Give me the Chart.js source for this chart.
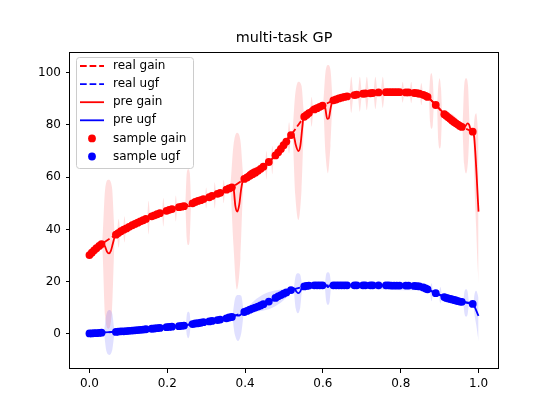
<!DOCTYPE html>
<html>
<head>
<meta charset="utf-8">
<script src="https://cdn.jsdelivr.net/npm/chart.js@4.4.0/dist/chart.umd.min.js"></script>
<style>
  html, body { margin: 0; padding: 0; background: #fff; }
  canvas { display: block; }
</style>
</head>
<body>
<canvas id="chart" width="554" height="415"></canvas>
<script>
// tick labels
const xTicks = [0, 0.2, 0.4, 0.6, 0.8, 1.0];
const xTickLabels = ["0.0", "0.2", "0.4", "0.6", "0.8", "1.0"];
const yTicks = [0, 20, 40, 60, 80, 100];

// sampled points (same x for both tasks)
const sampleX = [
  0.000, 0.006, 0.012, 0.018, 0.025, 0.031, 0.068, 0.074, 0.081, 0.088,
  0.095, 0.102, 0.110, 0.117, 0.124, 0.131, 0.138, 0.145, 0.160, 0.167,
  0.174, 0.181, 0.198, 0.205, 0.212, 0.230, 0.237, 0.243, 0.265, 0.272,
  0.279, 0.286, 0.293, 0.308, 0.315, 0.329, 0.336, 0.352, 0.359, 0.366,
  0.398, 0.405, 0.412, 0.419, 0.426, 0.433, 0.440, 0.447, 0.461, 0.478,
  0.485, 0.492, 0.499, 0.506, 0.518, 0.552, 0.558, 0.564, 0.578, 0.585,
  0.592, 0.599, 0.627, 0.634, 0.641, 0.648, 0.655, 0.662, 0.681, 0.687,
  0.703, 0.709, 0.722, 0.728, 0.743, 0.762, 0.769, 0.776, 0.783, 0.790,
  0.797, 0.813, 0.820, 0.835, 0.842, 0.848, 0.858, 0.864, 0.869, 0.890,
  0.912, 0.917, 0.922, 0.927, 0.932, 0.937, 0.942, 0.947, 0.952, 0.957,
  0.985
];
const sampleGain = [
  30.2, 31.1, 32.0, 32.8, 33.7, 34.4, 38.0, 38.6, 39.3, 39.9,
  40.4, 41.0, 41.6, 42.1, 42.6, 43.1, 43.5, 44.0, 45.0, 45.4,
  45.8, 46.2, 47.1, 47.5, 47.8, 48.5, 48.7, 48.9, 50.0, 50.5,
  50.9, 51.2, 51.6, 52.3, 52.8, 53.6, 54.0, 55.2, 55.7, 56.1,
  59.3, 59.9, 60.5, 61.1, 61.7, 62.4, 63.2, 64.0, 65.8, 68.3,
  69.5, 70.8, 72.2, 73.6, 76.1, 83.1, 83.8, 84.5, 85.9, 86.4,
  86.9, 87.4, 89.4, 89.7, 90.1, 90.4, 90.7, 90.9, 91.4, 91.6,
  91.9, 92.0, 92.1, 92.2, 92.4, 92.5, 92.5, 92.5, 92.5, 92.5,
  92.5, 92.4, 92.4, 92.2, 92.1, 91.9, 91.5, 91.1, 90.7, 87.6,
  84.1, 83.5, 82.9, 82.3, 81.7, 81.1, 80.6, 80.1, 79.6, 79.2,
  77.4
];
const sampleUgf = [
  0.2, 0.2, 0.3, 0.3, 0.4, 0.5, 0.8, 0.9, 1.0, 1.0,
  1.1, 1.2, 1.3, 1.4, 1.5, 1.6, 1.7, 1.8, 2.0, 2.1,
  2.2, 2.3, 2.6, 2.7, 2.8, 3.0, 3.1, 3.2, 3.8, 4.0,
  4.1, 4.3, 4.5, 4.8, 5.0, 5.3, 5.5, 6.0, 6.3, 6.5,
  8.4, 8.8, 9.3, 9.7, 10.1, 10.5, 10.9, 11.4, 12.4, 13.8,
  14.4, 14.9, 15.4, 15.9, 16.8, 18.2, 18.4, 18.5, 18.6, 18.6,
  18.6, 18.6, 18.6, 18.6, 18.6, 18.6, 18.6, 18.6, 18.6, 18.6,
  18.6, 18.6, 18.6, 18.6, 18.6, 18.6, 18.6, 18.5, 18.5, 18.5,
  18.5, 18.5, 18.5, 18.4, 18.3, 18.2, 17.8, 17.4, 17.1, 15.6,
  14.1, 13.8, 13.6, 13.4, 13.2, 13.0, 12.8, 12.6, 12.4, 12.3,
  11.5
];

// GP prediction (gain)
const preGainX = [
  0, 0.01, 0.02, 0.033, 0.04, 0.045, 0.05, 0.055, 0.06, 0.066,
  0.1, 0.15, 0.2, 0.242, 0.25, 0.256, 0.264, 0.3, 0.35, 0.368,
  0.371, 0.375, 0.38, 0.385, 0.39, 0.395, 0.45, 0.5, 0.52, 0.525,
  0.53, 0.537, 0.542, 0.547, 0.55, 0.603, 0.606, 0.611, 0.615, 0.62,
  0.625, 0.7, 0.8, 0.848, 0.87, 0.89, 0.96, 0.966, 0.972, 0.976,
  0.98, 0.985, 0.989, 1.0
];
const preGain = [
  30.2, 31.8, 33.2, 34.6, 33.5, 31.5, 30.8, 31.8, 34.5, 37.7,
  40.8, 44.4, 47.2, 48.9, 49.1, 48.8, 50.0, 51.9, 55.0, 56.2,
  55.0, 49.0, 46.8, 49.5, 55.5, 59.0, 64.4, 72.4, 76.5, 76.0,
  72.5, 70.0, 72.0, 79.0, 82.8, 87.6, 86.5, 82.3, 82.5, 86.5,
  89.2, 91.9, 92.5, 92.0, 90.7, 87.6, 78.9, 79.5, 80.6, 80.0,
  78.0, 77.4, 75.0, 46.8
];

// GP prediction (ugf)
const preUgfX = [
  0, 0.033, 0.05, 0.066, 0.1, 0.15, 0.2, 0.25, 0.3, 0.35,
  0.368, 0.376, 0.382, 0.388, 0.395, 0.45, 0.5, 0.52, 0.526, 0.532,
  0.537, 0.542, 0.548, 0.6, 0.608, 0.613, 0.618, 0.7, 0.84, 0.87,
  0.89, 0.96, 0.985, 1.0
];
const preUgf = [
  0.2, 0.5, 0.7, 0.8, 1.2, 1.9, 2.6, 3.5, 4.6, 6.0,
  6.6, 7.2, 7.0, 7.3, 8.2, 11.6, 15.3, 16.9, 17.4, 16.2,
  15.6, 16.3, 18.2, 18.6, 18.6, 17.9, 18.6, 18.6, 18.4, 17.0,
  15.6, 12.3, 11.5, 6.9
];

// confidence band (gain)
const gainBandX = [
  0, 0.032, 0.040, 0.049, 0.058, 0.066, 0.07, 0.075, 0.08, 0.086,
  0.09, 0.094, 0.148, 0.152, 0.156, 0.186, 0.19, 0.194, 0.218, 0.222,
  0.226, 0.246, 0.25, 0.254, 0.258, 0.262, 0.296, 0.3, 0.304, 0.318,
  0.322, 0.326, 0.341, 0.345, 0.349, 0.361, 0.37, 0.379, 0.388, 0.397,
  0.451, 0.455, 0.459, 0.466, 0.47, 0.474, 0.508, 0.513, 0.518, 0.521,
  0.529, 0.537, 0.545, 0.553, 0.566, 0.571, 0.576, 0.6, 0.6065, 0.613,
  0.6195, 0.626, 0.667, 0.673, 0.679, 0.689, 0.695, 0.701, 0.707, 0.713,
  0.719, 0.729, 0.735, 0.741, 0.748, 0.754, 0.76, 0.8, 0.805, 0.81,
  0.822, 0.827, 0.832, 0.848, 0.853, 0.858, 0.872, 0.8755, 0.879, 0.8825,
  0.886, 0.893, 0.8965, 0.9, 0.9035, 0.907, 0.958, 0.963, 0.968, 0.973,
  0.978, 0.986, 0.99, 0.994, 0.997, 1.0
];
const gainBandHi = [
  30.2, 34.4, 55.0, 59.0, 56.0, 37.7, 38.2, 44.0, 39.2, 39.7,
  45.0, 40.4, 44.2, 51.0, 44.8, 46.5, 52.0, 47.0, 48.0, 53.0,
  48.3, 49.0, 61.5, 63.0, 61.5, 49.9, 51.7, 56.0, 52.1, 52.9,
  58.0, 53.4, 54.3, 59.0, 55.0, 55.8, 72.0, 77.0, 74.0, 59.2,
  64.5, 70.0, 65.5, 66.5, 72.0, 67.7, 74.0, 81.0, 76.0, 76.7,
  92.0, 96.5, 95.0, 83.2, 84.8, 90.7, 85.7, 87.4, 100.0, 102.9,
  101.0, 89.3, 91.1, 98.4, 91.4, 91.6, 98.4, 91.9, 91.9, 98.4,
  92.1, 92.2, 98.4, 92.4, 92.5, 98.4, 92.5, 92.5, 96.5, 92.5,
  92.4, 96.5, 92.3, 92.0, 96.0, 91.6, 90.4, 98.0, 99.7, 97.0,
  88.2, 87.2, 95.0, 97.8, 94.0, 84.8, 79.0, 95.0, 97.8, 95.0,
  79.5, 77.3, 83.0, 84.4, 81.0, 74.0
];
const gainBandLo = [
  30.2, 34.4, 7.0, 2.0, 9.0, 37.7, 38.2, 33.0, 39.2, 39.7,
  35.0, 40.4, 44.2, 38.0, 44.8, 46.5, 41.0, 47.0, 48.0, 43.0,
  48.3, 49.0, 36.5, 34.0, 36.5, 49.9, 51.7, 48.0, 52.1, 52.9,
  48.0, 53.4, 54.3, 50.0, 55.0, 55.8, 34.0, 17.0, 29.0, 59.2,
  64.5, 59.0, 65.5, 66.5, 61.0, 67.7, 74.0, 69.0, 76.0, 76.7,
  53.0, 43.6, 55.0, 83.2, 84.8, 79.3, 85.7, 87.4, 69.0, 61.4,
  72.0, 89.3, 91.1, 84.5, 91.4, 91.6, 85.0, 91.9, 91.9, 85.6,
  92.1, 92.2, 86.0, 92.4, 92.5, 86.5, 92.5, 92.5, 88.5, 92.5,
  92.4, 88.3, 92.3, 92.0, 87.5, 91.6, 90.4, 81.0, 78.5, 80.0,
  88.2, 87.2, 74.0, 71.0, 73.0, 84.8, 79.0, 65.0, 61.4, 66.0,
  79.5, 77.3, 55.0, 40.0, 28.0, 19.0
];

// confidence band (ugf)
const ugfBandX = [
  0, 0.036, 0.0435, 0.051, 0.0585, 0.066, 0.247, 0.2505, 0.254, 0.2575,
  0.261, 0.366, 0.374, 0.382, 0.39, 0.398, 0.524, 0.53, 0.536, 0.542,
  0.548, 0.604, 0.6085, 0.613, 0.6175, 0.622, 0.874, 0.879, 0.884, 0.897,
  0.902, 0.907, 0.96, 0.964, 0.968, 0.972, 0.976, 0.986, 0.99, 0.994,
  1.0
];
const ugfBandHi = [
  0.2, 0.5, 7.5, 9.2, 7.8, 0.8, 3.4, 7.6, 8.5, 7.9,
  3.7, 6.5, 13.5, 14.9, 14.6, 8.4, 17.1, 22.3, 23.2, 22.6,
  18.2, 18.6, 22.9, 23.6, 22.9, 18.6, 16.7, 19.4, 16.1, 15.1,
  18.0, 14.4, 12.3, 16.3, 17.1, 16.2, 11.8, 11.5, 15.5, 16.5,
  14.0
];
const ugfBandLo = [
  0.2, 0.5, -6.5, -8.0, -6.2, 0.8, 3.4, -0.6, -1.6, -0.3,
  3.7, 6.5, -0.5, -2.7, 0.2, 8.4, 17.1, 9.8, 7.9, 10.3,
  18.2, 18.6, 12.5, 11.1, 12.5, 18.6, 16.7, 12.5, 16.1, 15.1,
  11.7, 14.4, 12.3, 7.6, 6.6, 7.5, 11.8, 11.5, 7.0, 3.5,
  -2.9
];

const pts = (xs, ys) => xs.map((x, i) => ({ x: x, y: ys[i] }));

const RED = "#ff0000";
const BLUE = "#0000ff";

// frame around the plot, like matplotlib spines
const frame = {
  id: "frame",
  afterDatasetsDraw(chart) {
    const { ctx, chartArea: a } = chart;
    ctx.save();
    ctx.strokeStyle = "#000";
    ctx.lineWidth = 1;
    ctx.strokeRect(Math.round(a.left) - 0.5, Math.round(a.top) + 0.5,
      Math.round(a.right - a.left) + 1, Math.round(a.bottom - a.top) - 1);
    ctx.restore();
  },
};

// legend box in the upper left corner
const boxLegend = {
  id: "boxLegend",
  afterDraw(chart) {
    const ctx = chart.ctx;
    const items = chart.data.datasets.filter((d) => d.label);
    const x0 = 76, y0 = 57, w = 117, h = 111, r = 3;
    ctx.save();
    ctx.beginPath();
    ctx.roundRect(x0 + 0.5, y0 + 0.5, w, h, r);
    ctx.fillStyle = "rgba(255,255,255,0.8)";
    ctx.fill();
    ctx.strokeStyle = "#cccccc";
    ctx.lineWidth = 1;
    ctx.stroke();
    ctx.font = "12px 'DejaVu Sans'";
    ctx.textBaseline = "middle";
    items.forEach((d, i) => {
      const y = 66 + i * 18.1;
      if (d.showLine === false) {
        ctx.beginPath();
        ctx.arc(92, y, d.pointRadius, 0, Math.PI * 2);
        ctx.fillStyle = d.backgroundColor;
        ctx.fill();
      } else {
        ctx.beginPath();
        ctx.setLineDash(d.borderDash || []);
        ctx.strokeStyle = d.borderColor;
        ctx.lineWidth = d.borderWidth;
        ctx.moveTo(80, y);
        ctx.lineTo(104, y);
        ctx.stroke();
        ctx.setLineDash([]);
      }
      ctx.fillStyle = "#000";
      ctx.fillText(d.label, 113, y);
    });
    ctx.restore();
  },
};

Chart.defaults.font.family = "'DejaVu Sans', sans-serif";
Chart.defaults.font.size = 12;
Chart.defaults.color = "#000";

const ctx = document.getElementById("chart").getContext("2d");
const chart = new Chart(ctx, {
  type: "line",
  data: {
    datasets: [
      {
        label: "real gain",
        data: pts(sampleX, sampleGain),
        borderColor: RED,
        borderWidth: 1.8,
        borderDash: [6.7, 2.9],
        pointRadius: 0,
        order: 3,
      },
      {
        label: "real ugf",
        data: pts(sampleX, sampleUgf),
        borderColor: BLUE,
        borderWidth: 1.8,
        borderDash: [6.7, 2.9],
        pointRadius: 0,
        order: 3,
      },
      {
        label: "pre gain",
        data: pts(preGainX, preGain),
        borderColor: RED,
        borderWidth: 1.8,
        pointRadius: 0,
        cubicInterpolationMode: "monotone",
        order: 2,
      },
      {
        label: "pre ugf",
        data: pts(preUgfX, preUgf),
        borderColor: BLUE,
        borderWidth: 1.8,
        pointRadius: 0,
        cubicInterpolationMode: "monotone",
        order: 2,
      },
      {
        label: "sample gain",
        data: pts(sampleX, sampleGain),
        showLine: false,
        pointRadius: 3.9,
        pointBorderWidth: 0,
        backgroundColor: RED,
        borderColor: RED,
        order: 1,
      },
      {
        label: "sample ugf",
        data: pts(sampleX, sampleUgf),
        showLine: false,
        pointRadius: 3.9,
        pointBorderWidth: 0,
        backgroundColor: BLUE,
        borderColor: BLUE,
        order: 1,
      },
      // bands (no legend entry)
      {
        data: pts(gainBandX, gainBandHi),
        borderColor: "transparent",
        backgroundColor: "rgba(255, 0, 0, 0.13)",
        pointRadius: 0,
        fill: "+1",
        cubicInterpolationMode: "monotone",
        order: 5,
      },
      {
        data: pts(gainBandX, gainBandLo),
        borderColor: "transparent",
        pointRadius: 0,
        fill: false,
        cubicInterpolationMode: "monotone",
        order: 5,
      },
      {
        data: pts(ugfBandX, ugfBandHi),
        borderColor: "transparent",
        backgroundColor: "rgba(0, 0, 255, 0.12)",
        pointRadius: 0,
        fill: "+1",
        cubicInterpolationMode: "monotone",
        order: 4,
      },
      {
        data: pts(ugfBandX, ugfBandLo),
        borderColor: "transparent",
        pointRadius: 0,
        fill: false,
        cubicInterpolationMode: "monotone",
        order: 4,
      },
    ],
  },
  options: {
    responsive: false,
    animation: false,
    events: [],
    layout: { padding: { left: 0, right: 56, top: 0, bottom: 0 } },
    scales: {
      x: {
        type: "linear",
        min: -0.05,
        max: 1.05,
        afterBuildTicks: (axis) => {
          axis.ticks = xTicks.map((v) => ({ value: v }));
        },
        afterFit: (axis) => {
          axis.height = 46;
        },
        ticks: {
          autoSkip: false,
          maxRotation: 0,
          padding: 4,
          callback: (value) => xTickLabels[xTicks.indexOf(value)],
        },
        grid: {
          drawOnChartArea: false,
          drawTicks: true,
          tickLength: 4,
          color: "#000",
        },
        border: { display: false },
      },
      y: {
        min: -13.4,
        max: 108,
        afterBuildTicks: (axis) => {
          axis.ticks = yTicks.map((v) => ({ value: v }));
        },
        afterFit: (axis) => {
          axis.width = 70;
        },
        ticks: { autoSkip: false, padding: 5 },
        grid: {
          drawOnChartArea: false,
          drawTicks: true,
          tickLength: 4,
          color: "#000",
        },
        border: { display: false },
      },
    },
    plugins: {
      legend: { display: false },
      tooltip: { enabled: false },
      title: {
        display: true,
        text: "multi-task GP",
        fullSize: false,
        color: "#000",
        font: { size: 14.4, weight: "normal" },
        padding: { top: 29.5, bottom: 4.9 },
      },
    },
  },
  plugins: [frame, boxLegend],
});
</script>
</body>
</html>
